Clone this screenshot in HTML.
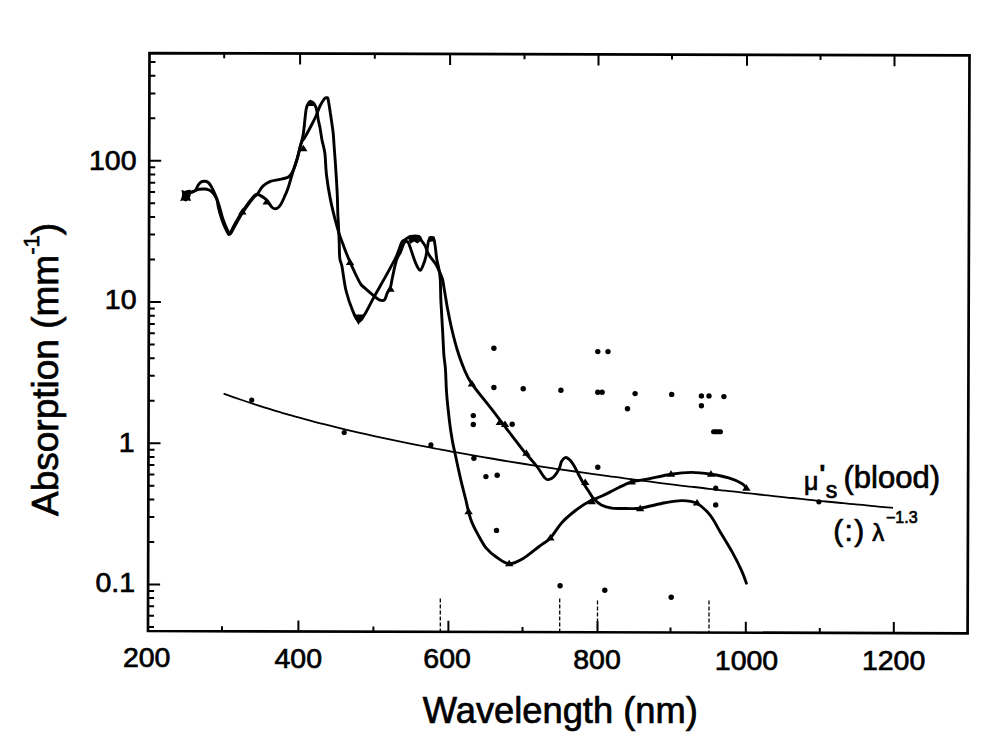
<!DOCTYPE html>
<html><head><meta charset="utf-8"><style>
html,body{margin:0;padding:0;background:#fff;}
body{width:985px;height:752px;overflow:hidden;}
svg{display:block;}
text{font-family:"Liberation Sans",sans-serif;fill:#000;}
</style></head><body>
<svg width="985" height="752" viewBox="0 0 985 752">
<rect width="985" height="752" fill="#fff"/>
<polygon points="149.5,53.1 969.5,55.4 967.6,633.3 148.0,631.0" fill="none" stroke="#000" stroke-width="2.7" stroke-linejoin="miter"/>
<path d="M148.0,626.9 h6.0 M148.0,615.7 h6.0 M148.1,606.3 h6.0 M148.1,598.1 h6.0 M148.1,590.9 h6.0 M148.1,584.4 h12.0 M148.2,541.9 h6.0 M148.3,517.0 h6.0 M148.3,499.4 h6.0 M148.4,485.7 h6.0 M148.4,474.5 h6.0 M148.4,465.1 h6.0 M148.5,456.9 h6.0 M148.5,449.7 h6.0 M148.5,443.2 h12.0 M148.6,400.7 h6.0 M148.7,375.8 h6.0 M148.7,358.2 h6.0 M148.7,344.5 h6.0 M148.8,333.3 h6.0 M148.8,323.9 h6.0 M148.8,315.7 h6.0 M148.8,308.5 h6.0 M148.9,302.0 h12.0 M149.0,259.5 h6.0 M149.0,234.6 h6.0 M149.1,217.0 h6.0 M149.1,203.3 h6.0 M149.1,192.1 h6.0 M149.2,182.7 h6.0 M149.2,174.5 h6.0 M149.2,167.3 h6.0 M149.2,160.8 h12.0 M149.3,118.3 h6.0 M149.4,93.4 h6.0 M149.4,75.8 h6.0 M149.5,62.1 h6.0 M222.0,631.2 v-5.0 M298.4,631.4 v-11.0 M373.4,631.6 v-5.0 M448.4,631.8 v-11.0 M522.5,632.1 v-5.0 M597.5,632.3 v-11.0 M670.5,632.5 v-5.0 M745.8,632.7 v-11.0 M819.8,632.9 v-5.0 M893.8,633.1 v-11.0 M224.2,53.3 v5.0 M300.1,53.5 v11.0 M374.8,53.7 v5.0 M450.1,53.9 v11.0 M524.5,54.2 v5.0 M598.5,54.4 v11.0 M672.0,54.6 v5.0 M747.0,54.8 v11.0 M820.5,55.0 v5.0 M894.5,55.2 v11.0" stroke="#000" stroke-width="2" fill="none"/>
<line x1="440.3" y1="598.4" x2="440.3" y2="631.8" stroke="#000" stroke-width="1.3" stroke-dasharray="4,2"/>
<line x1="559.7" y1="598.4" x2="559.7" y2="632.2" stroke="#000" stroke-width="1.3" stroke-dasharray="4,2"/>
<line x1="597.5" y1="600.5" x2="597.5" y2="632.3" stroke="#000" stroke-width="1.3" stroke-dasharray="4,2"/>
<line x1="709.0" y1="600.5" x2="709.0" y2="632.6" stroke="#000" stroke-width="1.3" stroke-dasharray="4,2"/>
<path d="M223.6,393.6 C226.4,394.6 234.8,397.6 240.3,399.5 C245.9,401.5 251.5,403.3 257.1,405.1 C262.6,406.9 268.2,408.6 273.8,410.3 C279.4,412.0 285.0,413.6 290.5,415.2 C296.1,416.8 301.7,418.3 307.3,419.8 C312.9,421.3 318.4,422.8 324.0,424.2 C329.6,425.6 335.2,427.0 340.7,428.3 C346.3,429.7 351.9,431.0 357.5,432.3 C363.1,433.6 368.6,434.8 374.2,436.1 C379.8,437.3 385.4,438.5 390.9,439.7 C396.5,440.8 402.1,442.0 407.7,443.1 C413.3,444.3 418.8,445.4 424.4,446.4 C430.0,447.5 435.6,448.6 441.2,449.6 C446.7,450.7 452.3,451.7 457.9,452.7 C463.5,453.7 469.0,454.7 474.6,455.7 C480.2,456.6 485.8,457.6 491.4,458.5 C496.9,459.5 502.5,460.4 508.1,461.3 C513.7,462.2 519.3,463.1 524.8,464.0 C530.4,464.9 536.0,465.7 541.6,466.6 C547.1,467.4 552.7,468.3 558.3,469.1 C563.9,469.9 569.5,470.7 575.0,471.5 C580.6,472.3 586.2,473.1 591.8,473.9 C597.3,474.7 602.9,475.4 608.5,476.2 C614.1,477.0 619.7,477.7 625.2,478.4 C630.8,479.2 636.4,479.9 642.0,480.6 C647.6,481.3 653.1,482.1 658.7,482.8 C664.3,483.5 669.9,484.1 675.4,484.8 C681.0,485.5 686.6,486.2 692.2,486.8 C697.8,487.5 703.3,488.2 708.9,488.8 C714.5,489.5 720.1,490.1 725.6,490.7 C731.2,491.4 736.8,492.0 742.4,492.6 C748.0,493.3 753.5,493.9 759.1,494.5 C764.7,495.1 770.3,495.7 775.9,496.3 C781.4,496.9 787.0,497.5 792.6,498.0 C798.2,498.6 803.7,499.2 809.3,499.8 C814.9,500.3 820.5,500.9 826.1,501.5 C831.6,502.0 837.2,502.6 842.8,503.1 C848.4,503.7 854.0,504.2 859.5,504.7 C865.1,505.3 870.7,505.8 876.3,506.3 C881.8,506.9 890.2,507.6 893.0,507.9" stroke="#000" stroke-width="1.8" fill="none"/>
<path d="M191.5,192.3 C192.1,192.0 194.2,191.6 195.3,190.5 C196.4,189.4 196.9,187.2 197.8,185.8 C198.7,184.4 199.5,183.1 200.6,182.3 C201.7,181.6 203.1,181.3 204.4,181.3 C205.7,181.3 207.1,181.6 208.3,182.5 C209.5,183.4 210.5,185.3 211.5,187.0 C212.5,188.7 213.4,190.4 214.3,192.5 C215.2,194.6 216.3,197.0 217.0,199.4 C217.7,201.8 217.6,203.8 218.3,206.9 C219.0,210.0 220.3,214.7 221.3,217.8 C222.3,221.0 223.4,223.5 224.3,225.8 C225.2,228.1 226.2,230.1 227.0,231.5 C227.8,232.9 228.2,234.3 228.8,234.5 C229.4,234.7 229.8,233.9 230.6,232.5 C231.4,231.1 232.4,228.6 233.8,226.0 C235.2,223.4 237.0,220.2 238.9,217.0 C240.8,213.8 243.2,210.3 245.5,207.0 C247.8,203.7 251.0,199.5 252.8,197.4 C254.6,195.3 255.2,194.8 256.4,194.5 C257.6,194.2 258.4,194.5 260.1,195.4 C261.8,196.3 264.7,198.0 266.7,200.0 C268.7,202.0 270.5,206.1 272.2,207.5 C273.9,208.9 275.5,208.9 276.9,208.4 C278.3,207.9 279.4,206.6 280.6,204.7 C281.8,202.8 283.1,200.0 284.3,197.2 C285.6,194.4 287.0,191.0 288.1,187.9 C289.2,184.8 290.0,181.7 290.9,178.6 C291.8,175.5 292.6,172.7 293.7,169.3 C294.8,165.9 296.2,162.2 297.4,158.0 C298.6,153.8 300.0,148.2 301.0,144.0 C302.0,139.8 302.7,137.6 303.4,133.1 C304.1,128.6 304.7,121.1 305.2,116.9 C305.7,112.7 305.8,110.4 306.4,108.0 C307.0,105.6 308.1,103.7 308.8,102.6 C309.5,101.5 309.8,101.3 310.6,101.4 C311.4,101.5 312.7,102.2 313.6,103.2 C314.5,104.2 315.4,105.8 316.0,107.4 C316.6,109.0 316.8,110.6 317.2,112.7 C317.6,114.8 317.8,117.3 318.3,119.9 C318.8,122.5 319.5,125.0 320.1,128.3 C320.7,131.7 321.2,135.8 322.0,140.0 C322.8,144.2 324.1,147.7 324.9,153.5 C325.6,159.3 325.6,167.3 326.5,175.0 C327.4,182.7 328.9,192.0 330.5,199.9 C332.1,207.8 334.3,216.5 335.9,222.5 C337.4,228.5 338.5,231.8 339.8,235.8 C341.1,239.8 342.4,242.6 343.8,246.4 C345.2,250.2 346.6,254.0 348.5,258.4 C350.4,262.8 353.0,268.8 355.0,273.0 C357.0,277.2 359.0,281.4 360.6,283.9 C362.2,286.4 362.4,285.9 364.6,287.9 C366.8,289.9 371.5,293.9 373.9,295.9 C376.3,297.9 377.4,299.1 379.2,299.8 C381.0,300.5 383.2,300.9 384.5,299.8 C385.8,298.7 386.2,295.3 387.2,293.2 C388.2,291.1 389.6,289.7 390.5,287.0 C391.4,284.3 391.5,281.7 392.5,277.2 C393.5,272.7 395.1,264.2 396.5,260.0 C397.9,255.8 399.4,254.7 400.6,251.9 C401.8,249.1 402.8,245.1 403.8,243.4 C404.8,241.7 405.6,241.4 406.5,241.5 C407.4,241.6 407.8,241.1 409.0,244.0 C410.2,246.9 412.6,254.8 414.0,258.7 C415.4,262.6 416.7,265.6 417.7,267.5 C418.7,269.4 419.3,270.6 420.2,270.4 C421.1,270.1 421.9,268.2 422.8,266.0 C423.7,263.8 425.0,260.2 425.7,257.3 C426.4,254.4 426.7,251.3 427.2,248.5 C427.7,245.7 428.1,242.2 428.7,240.4 C429.3,238.6 429.9,237.7 430.8,237.5 C431.7,237.3 433.1,237.5 433.8,239.0 C434.5,240.5 434.7,243.0 435.2,246.3 C435.7,249.6 436.1,254.9 436.7,258.7 C437.3,262.5 438.3,265.4 438.9,269.0 C439.5,272.6 440.0,275.1 440.3,280.0 C440.6,284.9 440.6,293.5 440.8,298.7 C441.0,303.9 441.2,305.6 441.5,311.3 C441.8,317.0 442.3,325.5 442.7,332.6 C443.1,339.7 443.4,347.8 443.8,353.8 C444.2,359.8 444.9,362.1 445.4,368.7 C445.9,375.3 446.0,384.7 446.6,393.2 C447.2,401.7 448.4,412.0 449.3,419.8 C450.2,427.6 451.2,434.2 452.2,439.8 C453.1,445.4 453.6,446.6 455.0,453.3 C456.4,460.0 459.1,472.4 460.8,479.9 C462.6,487.4 464.2,493.2 465.5,498.5 C466.8,503.8 467.5,507.8 468.6,511.8 C469.7,515.8 470.3,518.6 471.9,522.4 C473.5,526.2 475.6,530.4 478.0,534.6 C480.4,538.9 482.9,544.1 486.0,547.9 C489.1,551.7 492.7,554.6 496.6,557.2 C500.5,559.9 504.8,563.6 509.2,563.8 C513.6,564.0 518.2,561.4 523.2,558.5 C528.2,555.6 534.6,549.9 539.1,546.5 C543.6,543.1 546.6,541.9 550.4,537.9 C554.2,533.9 557.8,527.1 562.0,522.5 C566.2,517.9 570.8,514.1 575.5,510.5 C580.2,506.9 586.0,503.2 590.5,500.8 C595.0,498.4 597.9,498.0 602.5,495.8 C607.1,493.6 613.5,490.1 618.4,487.8 C623.3,485.5 626.7,483.4 631.7,481.9 C636.7,480.4 642.1,480.2 648.6,478.9 C655.1,477.6 663.9,475.3 671.0,474.2 C678.1,473.1 684.8,472.4 691.5,472.4 C698.2,472.4 704.8,473.3 711.0,474.2 C717.2,475.1 723.6,476.3 728.7,477.9 C733.8,479.4 738.8,481.8 741.8,483.5 C744.8,485.2 745.6,487.4 746.4,488.2" stroke="#000" stroke-width="2.9" fill="none" stroke-linejoin="round" stroke-linecap="round"/>
<path d="M191.5,192.3 C192.1,192.0 194.1,191.0 195.3,190.5 C196.6,190.0 197.5,189.6 199.0,189.3 C200.5,189.1 202.7,188.9 204.4,189.0 C206.1,189.1 207.7,189.4 209.0,190.0 C210.3,190.6 211.2,191.1 212.5,192.5 C213.8,193.9 215.3,196.1 216.5,198.5 C217.7,200.9 218.5,203.7 219.5,206.9 C220.5,210.1 221.5,214.7 222.5,217.8 C223.5,221.0 224.6,223.5 225.5,225.8 C226.4,228.1 227.5,230.1 228.2,231.5 C228.9,232.9 229.2,233.9 229.8,234.0 C230.4,234.1 230.8,233.3 231.6,232.0 C232.4,230.7 233.4,228.5 234.8,226.0 C236.2,223.5 238.0,220.2 239.9,217.0 C241.8,213.8 244.2,210.3 246.5,207.0 C248.8,203.7 252.0,199.6 253.8,197.4 C255.6,195.2 255.9,195.9 257.4,194.0 C258.9,192.1 260.7,188.2 262.9,186.1 C265.1,184.0 267.8,182.5 270.4,181.4 C273.0,180.3 276.0,180.2 278.8,179.6 C281.6,179.0 285.2,178.5 287.1,177.7 C289.1,176.9 289.4,176.4 290.5,175.0 C291.6,173.6 292.6,172.1 293.7,169.3 C294.8,166.5 296.1,162.4 297.4,158.0 C298.6,153.6 299.9,146.5 301.2,143.0 C302.5,139.5 303.2,140.1 305.0,137.0 C306.8,133.9 310.0,128.0 311.8,124.5 C313.6,121.0 314.6,119.1 316.0,116.0 C317.4,112.9 318.6,108.9 320.0,106.0 C321.4,103.1 323.2,100.2 324.3,98.8 C325.4,97.4 326.1,97.9 326.7,97.8 C327.3,97.7 327.5,97.2 327.9,98.4 C328.3,99.6 328.7,102.6 329.1,105.0 C329.5,107.4 329.9,109.7 330.3,112.7 C330.8,115.7 331.3,119.3 331.8,122.9 C332.3,126.5 332.9,129.8 333.3,134.3 C333.7,138.8 334.0,144.9 334.4,150.0 C334.8,155.1 335.0,157.8 335.5,165.0 C336.0,172.2 336.8,185.2 337.2,193.2 C337.6,201.2 337.6,207.6 337.8,213.2 C338.0,218.8 338.3,221.6 338.5,226.5 C338.7,231.4 339.0,237.1 339.2,242.4 C339.4,247.7 339.3,254.4 339.8,258.4 C340.3,262.4 341.0,261.2 342.0,266.6 C343.0,272.0 344.2,283.2 346.0,290.5 C347.8,297.8 350.5,305.4 352.6,310.5 C354.7,315.6 356.6,320.4 358.6,321.1 C360.6,321.8 362.1,318.5 364.6,314.5 C367.2,310.5 370.3,303.6 373.9,297.2 C377.4,290.8 382.1,282.8 385.9,275.9 C389.7,269.0 393.9,261.6 396.5,256.0 C399.1,250.4 400.3,245.2 401.6,242.6 C402.9,239.9 403.5,240.9 404.5,240.1 C405.5,239.3 406.4,238.6 407.4,238.0 C408.4,237.4 408.8,236.8 410.7,236.5 C412.6,236.2 417.3,235.8 419.1,236.5 C420.9,237.2 420.3,238.9 421.3,240.4 C422.3,241.9 423.9,243.5 425.0,245.6 C426.1,247.7 426.8,250.7 427.9,252.9 C429.0,255.1 430.2,256.8 431.6,258.7 C433.0,260.6 434.7,262.4 436.0,264.6 C437.3,266.8 438.5,269.5 439.6,271.9 C440.7,274.3 441.7,276.2 442.5,279.2 C443.3,282.2 443.5,284.9 444.4,290.0 C445.3,295.1 446.5,303.3 447.8,310.0 C449.1,316.7 450.4,323.3 452.0,330.0 C453.6,336.7 455.3,343.6 457.3,350.0 C459.3,356.4 461.6,363.1 464.0,368.7 C466.4,374.3 467.0,376.8 471.9,383.9 C476.8,391.0 484.8,400.3 493.2,411.2 C501.6,422.1 516.3,441.5 522.4,449.3 C528.5,457.1 527.5,455.2 530.0,458.2 C532.5,461.1 534.9,463.8 537.3,467.0 C539.7,470.2 542.8,475.5 544.6,477.6 C546.4,479.7 546.7,479.8 548.3,479.6 C549.9,479.4 552.3,478.4 554.1,476.5 C555.9,474.6 558.1,470.9 559.3,468.4 C560.5,465.9 560.5,463.3 561.5,461.5 C562.5,459.7 563.8,457.9 565.1,457.6 C566.4,457.3 568.0,458.3 569.5,459.6 C571.0,460.9 572.4,463.1 573.9,465.5 C575.4,467.9 576.7,471.0 578.3,474.0 C579.9,477.0 581.7,480.5 583.4,483.3 C585.1,486.1 586.8,488.4 588.5,491.0 C590.2,493.6 591.4,496.3 593.5,498.6 C595.6,500.9 598.2,503.4 601.3,505.0 C604.4,506.6 607.7,507.5 611.9,508.1 C616.1,508.7 621.7,508.5 626.4,508.5 C631.1,508.5 633.5,509.1 640.0,508.2 C646.5,507.2 658.1,504.1 665.1,502.8 C672.1,501.5 676.8,500.5 682.1,500.6 C687.4,500.7 692.3,501.1 697.0,503.5 C701.7,505.9 706.1,510.2 710.1,515.2 C714.1,520.2 717.6,527.6 721.3,533.8 C725.0,540.0 729.0,546.2 732.4,552.4 C735.8,558.6 739.5,566.0 741.8,571.1 C744.1,576.2 745.6,581.2 746.4,583.2" stroke="#000" stroke-width="2.9" fill="none" stroke-linejoin="round" stroke-linecap="round"/>
<path d="M350.0,258.6 l4.2,6.5 h-8.4z" fill="#000"/>
<path d="M390.5,285.2 l4.2,6.5 h-8.4z" fill="#000"/>
<path d="M468.6,507.8 l4.2,6.5 h-8.4z" fill="#000"/>
<path d="M509.2,559.8 l4.2,6.5 h-8.4z" fill="#000"/>
<path d="M550.4,533.9 l4.2,6.5 h-8.4z" fill="#000"/>
<path d="M591.8,497.8 l4.2,6.5 h-8.4z" fill="#000"/>
<path d="M631.7,477.9 l4.2,6.5 h-8.4z" fill="#000"/>
<path d="M671.0,470.2 l4.2,6.5 h-8.4z" fill="#000"/>
<path d="M711.0,470.2 l4.2,6.5 h-8.4z" fill="#000"/>
<path d="M746.4,484.2 l4.2,6.5 h-8.4z" fill="#000"/>
<path d="M471.9,379.9 l4.2,6.5 h-8.4z" fill="#000"/>
<path d="M499.8,418.5 l4.2,6.5 h-8.4z" fill="#000"/>
<path d="M526.4,449.3 l4.2,6.5 h-8.4z" fill="#000"/>
<path d="M585.2,478.5 l4.2,6.5 h-8.4z" fill="#000"/>
<path d="M640.2,504.7 l4.2,6.5 h-8.4z" fill="#000"/>
<path d="M697.0,499.1 l4.2,6.5 h-8.4z" fill="#000"/>
<path d="M242.4,208.1 l4.2,6.5 h-8.4z" fill="#000"/>
<path d="M266.7,198.0 l4.2,6.5 h-8.4z" fill="#000"/>
<path d="M303.3,144.7 l4.2,6.5 h-8.4z" fill="#000"/>
<path d="M505.0,420.5 l4.2,6.5 h-8.4z" fill="#000"/>
<path d="M310.5,99.5 l4.2,6.5 h-8.4z" fill="#000"/>
<path d="M352.5,314.5 h12 l-6,10.5z" fill="#000"/>
<path d="M409.5,235.5 L420,235.5 L421.5,240 L417.5,243.5 L414,241.5 L410.5,243.8 L408.5,240z" fill="#000"/>
<path d="M428.5,236.5 L434.5,236.5 L435.5,241 L429,242z" fill="#000"/>
<path d="M181.5,189.8 l3,1.2 3,-1 3,-0.2 1.2,1.5 -0.8,3 -1,3.5 1.2,3.2 -3,-0.5 -2.5,1 -2.5,-1 -3,0.6 1.5,-3.5 0.5,-3.5z" fill="#000"/>
<circle cx="251.7" cy="400.0" r="2.6" fill="#000"/>
<circle cx="344.2" cy="432.5" r="2.6" fill="#000"/>
<circle cx="430.9" cy="444.9" r="2.6" fill="#000"/>
<circle cx="715.7" cy="488.2" r="2.6" fill="#000"/>
<circle cx="818.9" cy="501.8" r="2.6" fill="#000"/>
<circle cx="493.9" cy="348.3" r="2.7" fill="#000"/>
<circle cx="597.8" cy="351.6" r="2.7" fill="#000"/>
<circle cx="608.0" cy="351.6" r="2.7" fill="#000"/>
<circle cx="493.9" cy="387.5" r="2.7" fill="#000"/>
<circle cx="523.2" cy="388.8" r="2.7" fill="#000"/>
<circle cx="560.9" cy="390.3" r="2.7" fill="#000"/>
<circle cx="597.8" cy="392.2" r="2.7" fill="#000"/>
<circle cx="602.1" cy="392.2" r="2.7" fill="#000"/>
<circle cx="512.2" cy="424.2" r="2.7" fill="#000"/>
<circle cx="635.1" cy="393.6" r="2.7" fill="#000"/>
<circle cx="627.5" cy="408.8" r="2.7" fill="#000"/>
<circle cx="671.7" cy="394.4" r="2.7" fill="#000"/>
<circle cx="701.4" cy="395.9" r="2.7" fill="#000"/>
<circle cx="709.0" cy="395.9" r="2.7" fill="#000"/>
<circle cx="723.9" cy="396.6" r="2.7" fill="#000"/>
<circle cx="701.4" cy="405.8" r="2.7" fill="#000"/>
<circle cx="473.3" cy="415.6" r="2.7" fill="#000"/>
<circle cx="473.3" cy="424.5" r="2.7" fill="#000"/>
<circle cx="473.9" cy="458.3" r="2.7" fill="#000"/>
<circle cx="485.9" cy="476.6" r="2.7" fill="#000"/>
<circle cx="497.2" cy="475.2" r="2.7" fill="#000"/>
<circle cx="496.5" cy="530.4" r="2.7" fill="#000"/>
<circle cx="597.8" cy="467.2" r="2.7" fill="#000"/>
<circle cx="715.7" cy="504.9" r="2.7" fill="#000"/>
<circle cx="560.1" cy="585.7" r="2.7" fill="#000"/>
<circle cx="604.8" cy="590.3" r="2.7" fill="#000"/>
<circle cx="671.2" cy="597.2" r="2.7" fill="#000"/>
<line x1="713.5" y1="431.7" x2="720.5" y2="431.7" stroke="#000" stroke-width="5" stroke-linecap="round"/>

<g stroke="#000" stroke-width="0.7">
<text x="136.5" y="170" text-anchor="end" font-size="28.5">100</text>
<text x="136.5" y="309" text-anchor="end" font-size="28.5">10</text>
<text x="134.5" y="452" text-anchor="end" font-size="28.5">1</text>
<text x="135" y="591.5" text-anchor="end" font-size="28.5">0.1</text>
<text x="146.7" y="667" text-anchor="middle" font-size="28.5">200</text>
<text x="298.3" y="667.5" text-anchor="middle" font-size="28.5">400</text>
<text x="447.1" y="668" text-anchor="middle" font-size="28.5">600</text>
<text x="597" y="668.5" text-anchor="middle" font-size="28.5">800</text>
<text x="746.5" y="669.5" text-anchor="middle" font-size="28.5">1000</text>
<text x="893.6" y="669.7" text-anchor="middle" font-size="28.5">1200</text>
<text x="422.8" y="722.7" font-size="36.3">Wavelength (nm)</text>
<text transform="translate(58,516) rotate(-90)" font-size="37">Absorption (mm<tspan dy="-19" font-size="22">-1</tspan><tspan dy="19">)</tspan></text>
<text x="804" y="490" font-size="25">&#956;</text>
<text x="819.5" y="482" font-size="24" font-weight="bold">'</text>
<text x="825.8" y="497.6" font-size="23">s</text>
<text x="843.5" y="488" font-size="31">(blood)</text>
<text x="833.3" y="540.5" font-size="30" letter-spacing="1.3">(:)</text>
<text x="872.3" y="540.5" font-size="24">&#955;</text>
<text x="886" y="523" font-size="16">&#8722;1.3</text>
</g>

</svg>
</body></html>
